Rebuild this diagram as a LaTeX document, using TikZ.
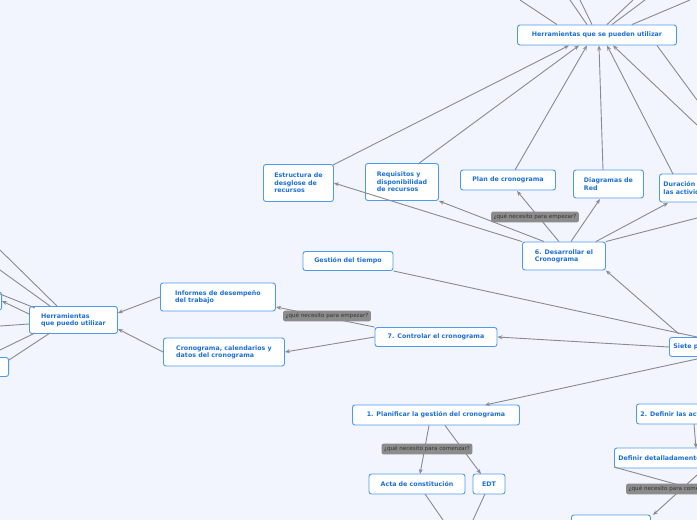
\documentclass[tikz,border=0pt]{standalone}
\usepackage{fontspec}
\setmainfont{DejaVu Sans}
\usetikzlibrary{arrows.meta}
\definecolor{bg}{HTML}{F2F5FE}
\definecolor{bd}{HTML}{4C9BEF}
\definecolor{tx}{HTML}{1C6FD8}
\definecolor{ln}{HTML}{8A8A8E}
\definecolor{qb}{HTML}{8C8C8C}
\definecolor{qt}{HTML}{333333}
\tikzset{
 box/.style={draw=bd,line width=0.9pt,fill=white,rounded corners=2.5pt,font=\fontsize{6.3}{7.4}\selectfont\bfseries,text=tx,align=left,inner sep=4pt},
 qlab/.style={fill=qb,rounded corners=2pt,font=\fontsize{5.6}{6.5}\selectfont,text=qt,inner sep=2.5pt},
 con/.style={draw=ln,line width=0.9pt},
 arr/.style={con,-{Stealth[length=5pt,width=4pt]}}
}
\begin{document}
\begin{tikzpicture}[x=1pt,y=-1pt]
\useasboundingbox[fill=bg] (0,0) rectangle (697,520);
% nodes
\node[box,minimum width=159pt,minimum height=20pt,align=center] (h1) at (597,35) {Herramientas que se pueden utilizar};
\node[box,minimum width=70pt,minimum height=37pt,anchor=west] (edr) at (263,183) {Estructura de\\desglose de\\recursos};
\node[box,minimum width=73pt,minimum height=37pt,anchor=west] (req) at (365,182) {Requisitos y\\disponibilidad\\de recursos};
\node[box,minimum width=95pt,minimum height=20pt,align=center] (plan) at (508,180) {Plan de cronograma};
\node[box,minimum width=70pt,minimum height=28pt,anchor=west] (dred) at (573,184) {Diagramas de\\Red};
\node[box,minimum height=28pt,anchor=west] (dur) at (659,188) {Duración de\\las actividades};
\node[box,minimum width=83pt,minimum height=28pt,anchor=west] (d6) at (522,256) {6. Desarrollar el\\Cronograma};
\node[box,minimum width=90pt,minimum height=19pt,align=center] (gt) at (348,261) {Gestión del tiempo};
\node[box,minimum width=115pt,minimum height=28pt,anchor=west] (inf) at (160,297) {Informes de desempeño\\del trabajo};
\node[box,minimum width=122pt,minimum height=19pt,align=center] (c7) at (436,337) {7. Controlar el cronograma};
\node[box,minimum width=121pt,minimum height=28pt,anchor=west] (cro) at (163,352) {Cronograma, calendarios y\\datos del cronograma};
\node[box,minimum width=88pt,minimum height=27pt,anchor=west] (hp) at (29,320) {Herramientas\\que puedo utilizar};
\node[box,minimum width=30pt,minimum height=18pt,anchor=east] (l1) at (2,301) {};
\node[box,minimum width=30pt,minimum height=19pt,anchor=east] (l2) at (9,367) {};
\node[box,minimum height=19pt,anchor=west] (siete) at (669,347) {Siete procesos};
\node[box,minimum width=167pt,minimum height=20pt,align=center] (p1) at (436,415) {1. Planificar la gestión del cronograma};
\node[box,minimum width=96pt,minimum height=20pt,align=center] (acta) at (417,484) {Acta de constitución};
\node[box,minimum width=32pt,minimum height=20pt,align=center] (edt) at (489,484) {EDT};
\node[box,minimum height=20pt,anchor=west] (d2) at (636,414) {2. Definir las actividades};
\node[box,minimum height=20pt,anchor=west] (dd) at (614,458) {Definir detalladamente};
\node[box,minimum height=20pt,anchor=west] (bot) at (571,525) {Lista de actividades};
% top lines
\foreach \x/\s in {520/-40,570/-10,580/-5,633/10,645/15,690/35}
  \draw[con] ([xshift=\s pt]h1.north) -- (\x,0);
\draw[con] (h1.south east) ++(-20,0) -- (697,100);
% arrows into h1
\draw[arr] (333,165) -- ([xshift=-28pt]h1.south);
\draw[arr] (418,164) -- ([xshift=-18pt]h1.south);
\draw[arr] (515,170) -- ([xshift=-10pt]h1.south);
\draw[arr] (603,170) -- ([xshift=2pt]h1.south);
\draw[arr] (673,174) -- ([xshift=10pt]h1.south);
\draw[arr] (697,125) -- ([xshift=16pt]h1.south);
% from 6
\draw[arr] (d6.north west) -- (edr.east);
\draw[arr] ([xshift=22pt]d6.north west) -- (req.south east);
\draw[arr] ([xshift=-5pt]d6.north) -- (517,191);
\draw[arr] ([xshift=7pt]d6.north) -- (600,199);
\draw[arr] ([xshift=-10pt]d6.north east) -- (668,203);
\draw[con] (d6.north east) -- (697,218);
\node[qlab] (q1) at (535,217) {¿qué necesito para empezar?};
% from siete
\draw[arr] (siete.north west) ++(10,-3) -- (d6.south east);
\draw[con] (gt.south east) -- (697,337);
\draw[arr] (siete.west) -- (c7.east);
\draw[arr] (697,359) -- (485,405);
% from 7
\draw[arr] (c7.north west) -- (276,307);
\draw[arr] (c7.west) -- (cro.east);
\node[qlab] (q2) at (327,316) {¿qué necesito para empezar?};
\draw[arr] (inf.west) -- (hp.east |- 0,313);
\draw[arr] (cro.west) -- (hp.east |- 0,329);
% herramientas left
\draw[arr] (29,314) -- (l1.east);
\draw[con] (57,306) -- (0,250);
\draw[con] (50,306) -- (0,270);
\draw[con] (35,308) -- (0,294);
\draw[con] (29,324) -- (0,326);
\draw[con] (35,333) -- (0,350);
\draw[con] (50,333) -- (l2.east |- 0,360);
% 1.
\draw[arr] ([xshift=-7pt]p1.south) -- (420,474);
\draw[arr] ([xshift=9pt]p1.south) -- (481,474);
\node[qlab] (q3) at (427,449) {¿qué necesito para comenzar?};
\draw[con] (425,494) -- (443,520);
\draw[con] (485,494) -- (473,520);
% 2.
\draw[arr] (694,424) -- (696,448);
\draw[con] (614,467) -- (697,490);
\draw[arr] (697,475) -- (653,515);
\node[qlab,anchor=west] (q4) at (626,489) {¿qué necesito para comenzar?};
\end{tikzpicture}
\end{document}
